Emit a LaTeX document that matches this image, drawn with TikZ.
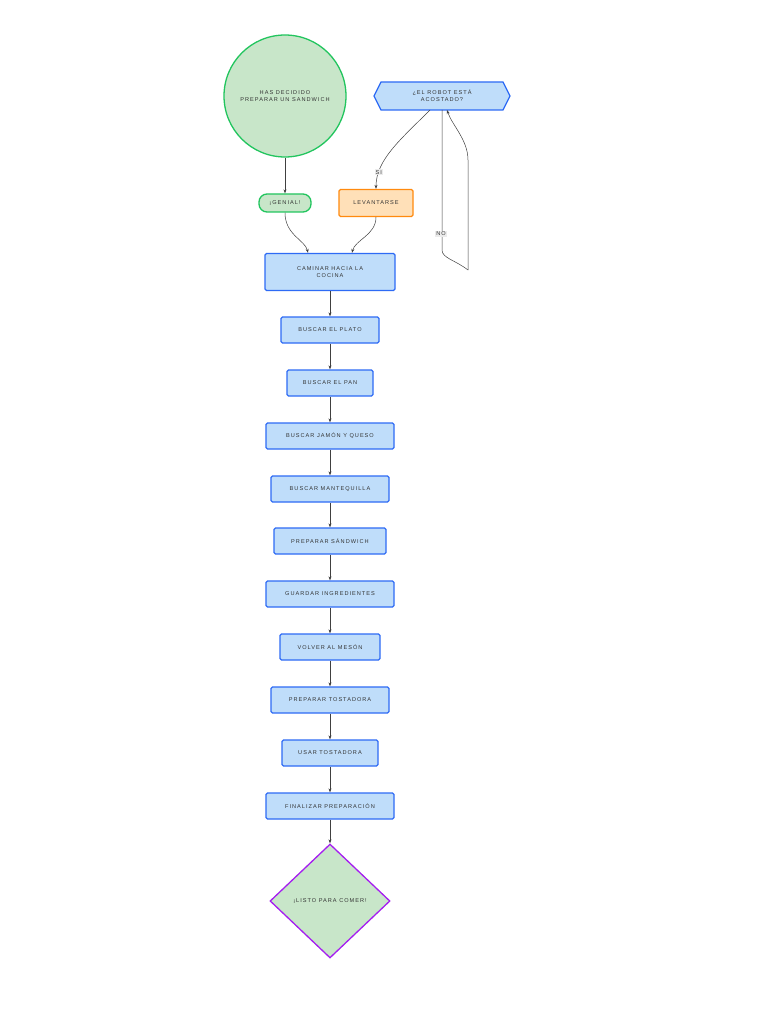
\documentclass[tikz,border=0pt]{standalone}
\usepackage{fontspec}
\setmainfont[LetterSpace=18]{Liberation Sans}
\usetikzlibrary{shapes.geometric,arrows.meta}
\definecolor{bfill}{HTML}{BFDDFA}
\definecolor{bdraw}{HTML}{2E6BF5}
\definecolor{gfill}{HTML}{C8E6C9}
\definecolor{gdraw}{HTML}{22C55E}
\definecolor{ofill}{HTML}{FFE0B8}
\definecolor{odraw}{HTML}{FF8A0F}
\definecolor{pdraw}{HTML}{A51DF0}
\tikzset{
 lbl/.style={font=\fontsize{5.6}{7}\selectfont, text=black!80, align=center},
 stepbox/.style={lbl, draw=bdraw, fill=bfill, line width=1.3pt, rounded corners=1.5pt, minimum height=26pt, inner sep=0pt},
 arr/.style={draw=black!75, line width=0.5pt, -{Stealth[length=4pt,width=3pt]}},
 edgelbl/.style={lbl, fill=black!8, inner sep=1pt}
}
\begin{document}
\begin{tikzpicture}[x=1pt,y=-1pt]
\useasboundingbox[fill=white] (0,0) rectangle (768,1024);
\node[lbl, circle, draw=gdraw, fill=gfill, line width=1.3pt, minimum size=122pt] (start) at (285,96) {HAS DECIDIDO\\PREPARAR UN SANDWICH};
\node[lbl, draw=none, minimum width=136pt, minimum height=28pt] (robot) at (442,96) {¿EL ROBOT ESTÁ\\ACOSTADO?};
\draw[draw=bdraw, fill=bfill, line width=1.3pt] (374,96) -- (381,82) -- (503,82) -- (510,96) -- (503,110) -- (381,110) -- cycle;
\node[lbl] at (442,96) {¿EL ROBOT ESTÁ\\ACOSTADO?};
\node[lbl, draw=gdraw, fill=gfill, line width=1.3pt, rounded corners=8pt, minimum width=52pt, minimum height=18pt, inner sep=0pt] (genial) at (285,203) {¡GENIAL!};
\node[lbl, draw=odraw, fill=ofill, line width=1.3pt, rounded corners=1.5pt, minimum width=74pt, minimum height=27pt, inner sep=0pt] (lev) at (376,203) {LEVANTARSE};
\node[stepbox, minimum width=130pt, minimum height=37pt] (cam) at (330,272) {CAMINAR HACIA LA\\COCINA};
\node[stepbox, minimum width=98pt] (plato) at (330,330) {BUSCAR EL PLATO};
\node[stepbox, minimum width=86pt] (pan) at (330,383) {BUSCAR EL PAN};
\node[stepbox, minimum width=128pt] (jamon) at (330,436) {BUSCAR JAMÓN Y QUESO};
\node[stepbox, minimum width=118pt] (mant) at (330,489) {BUSCAR MANTEQUILLA};
\node[stepbox, minimum width=112pt] (prep) at (330,541) {PREPARAR SÁNDWICH};
\node[stepbox, minimum width=128pt] (guard) at (330,594) {GUARDAR INGREDIENTES};
\node[stepbox, minimum width=100pt] (volver) at (330,647) {VOLVER AL MESÓN};
\node[stepbox, minimum width=118pt] (tost) at (330,700) {PREPARAR TOSTADORA};
\node[stepbox, minimum width=96pt] (usar) at (330,753) {USAR TOSTADORA};
\node[stepbox, minimum width=128pt] (fin) at (330,806) {FINALIZAR PREPARACIÓN};
\node[lbl, diamond, draw=pdraw, fill=gfill, line width=1.3pt, minimum width=120pt, minimum height=114pt, inner sep=0pt] (listo) at (330,901) {¡LISTO PARA COMER!};
\draw[arr] (start) -- (genial);
\draw[arr] (genial.south) .. controls (285,235) and (305,240) .. ([xshift=-22pt]cam.north);
\draw[arr] (lev.south) .. controls (376,235) and (355,240) .. ([xshift=22pt]cam.north);
\draw[arr] (430,110) .. controls (400,140) and (376,160) .. node[edgelbl, pos=0.8]{SI} (lev.north);
\coordinate (lp) at (468,270);
\draw[draw=black!75, line width=0.5pt] (442,110) -- (442,250) .. controls (442,258) and (455,260) .. (lp);
\draw[arr] (lp) -- (468,160) .. controls (468,140) and (452,125) .. (447,110);
\node[edgelbl] at (441,234) {NO};
\foreach \a/\b in {cam/plato,plato/pan,pan/jamon,jamon/mant,mant/prep,prep/guard,guard/volver,volver/tost,tost/usar,usar/fin,fin/listo}
  \draw[arr] (\a) -- (\b);
\end{tikzpicture}
\end{document}
